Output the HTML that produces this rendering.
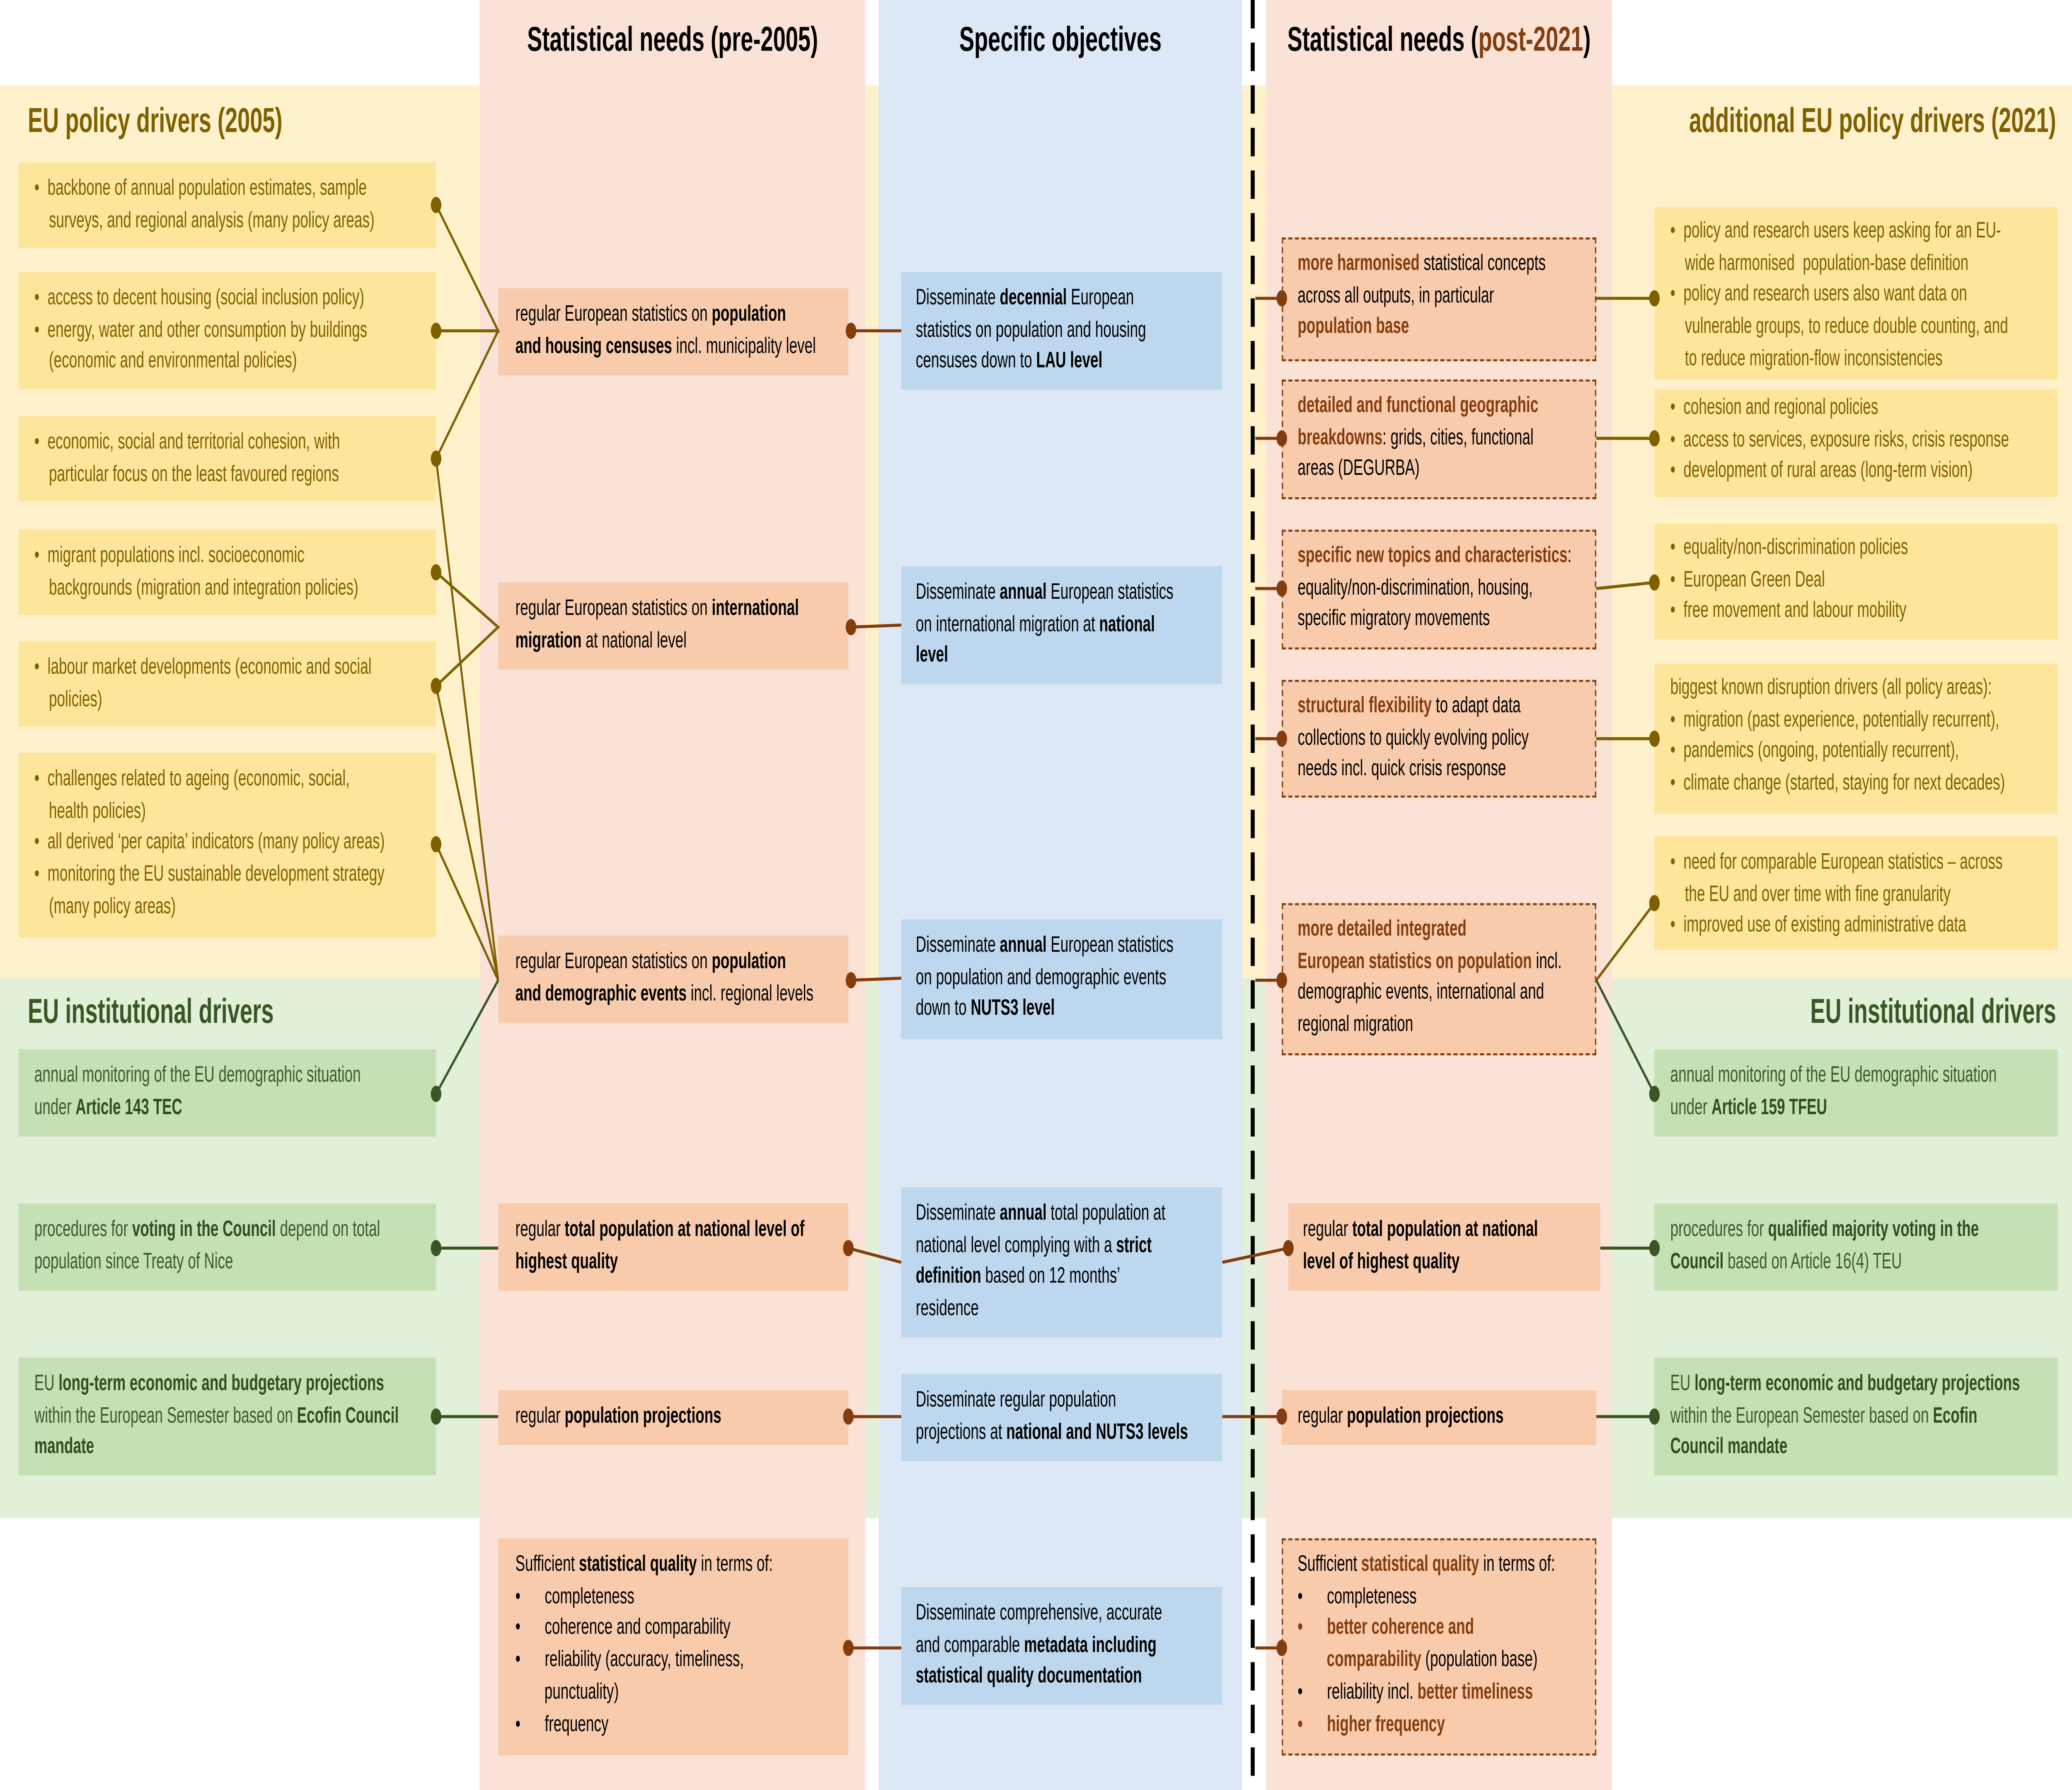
<!DOCTYPE html>
<html><head><meta charset="utf-8"><style>
html,body{margin:0;padding:0;background:#fff;overflow:hidden;width:100%;height:100%;}
svg.root{position:absolute;left:0;top:0;width:100vw;height:100vh;display:block;}
#c{position:relative;width:1568px;height:882px;font-family:"Liberation Sans",sans-serif;font-size:11px;line-height:15.7px;overflow:hidden;}
.a{position:absolute;box-sizing:border-box;}
.y{background:#fde59b;color:#7f6000;padding:6px 10px 0 12px;}
.g{background:#c5e0b4;color:#3b5a28;padding:6px 10px 0 12px;}
.p{background:#f8cbad;color:#000;padding:6px 10px 0 13px;}
.d{border:1.6px dashed #843c0c;padding:5px 8px 0 11px;}
.b{background:#bdd7ee;color:#000;padding:6px 8px 0 11px;}
.h{position:absolute;font-weight:bold;font-size:17px;line-height:20px;white-space:nowrap;}
.li{padding-left:11px;text-indent:-11px;}
.br{color:#843c0c;font-weight:bold;}
b{font-weight:bold;}
.g b{color:#2f4d1f}
.q .li{padding-left:22px;text-indent:-22px;}
</style></head><body>
<svg class="root" viewBox="0 0 1568 882" preserveAspectRatio="none" xmlns="http://www.w3.org/2000/svg">
<foreignObject x="0" y="0" width="1568" height="882">
<div xmlns="http://www.w3.org/1999/xhtml" id="c">
<div class="a" style="left:0;top:42px;width:1568px;height:440px;background:#fff1cc"></div>
<div class="a" style="left:0;top:482px;width:1568px;height:266px;background:#e2efd9"></div>
<div class="a" style="left:363px;top:0;width:292px;height:882px;background:#fae3d6"></div>
<div class="a" style="left:665px;top:0;width:275px;height:882px;background:#dce8f5"></div>
<div class="a" style="left:958px;top:0;width:262px;height:882px;background:#fae3d6"></div>

<div class="h" style="left:363px;width:292px;top:10px;text-align:center">Statistical needs (pre-2005)</div>
<div class="h" style="left:665px;width:275px;top:10px;text-align:center">Specific objectives</div>
<div class="h" style="left:958px;width:262px;top:10px;text-align:center">Statistical needs (<span style="color:#843c0c">post-2021</span>)</div>
<div class="h" style="left:21px;top:50px;color:#7f6000">EU policy drivers (2005)</div>
<div class="h" style="right:12px;top:50px;color:#7f6000">additional EU policy drivers (2021)</div>
<div class="h" style="left:21px;top:489px;color:#385723">EU institutional drivers</div>
<div class="h" style="right:12px;top:489px;color:#385723">EU institutional drivers</div>

<div class="a y" style="left:14px;top:80px;width:316px;height:42px"><div class="li">•&nbsp; backbone of annual population estimates, sample<br/>surveys, and regional analysis (many policy areas)</div></div>
<div class="a y" style="left:14px;top:134px;width:316px;height:58px"><div class="li">•&nbsp; access to decent housing (social inclusion policy)</div><div class="li">•&nbsp; energy, water and other consumption by buildings<br/>(economic and environmental policies)</div></div>
<div class="a y" style="left:14px;top:205px;width:316px;height:42px"><div class="li">•&nbsp; economic, social and territorial cohesion, with<br/>particular focus on the least favoured regions</div></div>
<div class="a y" style="left:14px;top:261px;width:316px;height:42px"><div class="li">•&nbsp; migrant populations incl. socioeconomic<br/>backgrounds (migration and integration policies)</div></div>
<div class="a y" style="left:14px;top:316px;width:316px;height:42px"><div class="li">•&nbsp; labour market developments (economic and social<br/>policies)</div></div>
<div class="a y" style="left:14px;top:371px;width:316px;height:91px"><div class="li">•&nbsp; challenges related to ageing (economic, social,<br/>health policies)</div><div class="li">•&nbsp; all derived ‘per capita’ indicators (many policy areas)</div><div class="li">•&nbsp; monitoring the EU sustainable development strategy<br/>(many policy areas)</div></div>
<div class="a g" style="left:14px;top:517px;width:316px;height:43px">annual monitoring of the EU demographic situation<br/>under <b>Article 143 TEC</b></div>
<div class="a g" style="left:14px;top:593px;width:316px;height:43px">procedures for <b>voting in the Council</b> depend on total<br/>population since Treaty of Nice</div>
<div class="a g" style="left:14px;top:669px;width:316px;height:58px">EU <b>long-term economic and budgetary projections</b><br/>within the European Semester based on <b>Ecofin Council</b><br/><b>mandate</b></div>

<div class="a p" style="left:377px;top:142px;width:265px;height:43px">regular European statistics on <b>population</b><br/><b>and housing censuses</b> incl. municipality level</div>
<div class="a p" style="left:377px;top:287px;width:265px;height:43px">regular European statistics on <b>international</b><br/><b>migration</b> at national level</div>
<div class="a p" style="left:377px;top:461px;width:265px;height:43px">regular European statistics on <b>population</b><br/><b>and demographic events</b> incl. regional levels</div>
<div class="a p" style="left:377px;top:593px;width:265px;height:43px">regular <b>total population at national level of</b><br/><b>highest quality</b></div>
<div class="a p" style="left:377px;top:685px;width:265px;height:27px">regular <b>population projections</b></div>
<div class="a p q" style="left:377px;top:758px;width:265px;height:107px">Sufficient <b>statistical quality</b> in terms of:<div class="li">•&nbsp;&nbsp;&nbsp;&nbsp;&nbsp; completeness</div><div class="li">•&nbsp;&nbsp;&nbsp;&nbsp;&nbsp; coherence and comparability</div><div class="li">•&nbsp;&nbsp;&nbsp;&nbsp;&nbsp; reliability (accuracy, timeliness,<br/>punctuality)</div><div class="li">•&nbsp;&nbsp;&nbsp;&nbsp;&nbsp; frequency</div></div>

<div class="a b" style="left:682px;top:134px;width:243px;height:58px">Disseminate <b>decennial</b> European<br/>statistics on population and housing<br/>censuses down to <b>LAU level</b></div>
<div class="a b" style="left:682px;top:279px;width:243px;height:58px">Disseminate <b>annual</b> European statistics<br/>on international migration at <b>national</b><br/><b>level</b></div>
<div class="a b" style="left:682px;top:453px;width:243px;height:59px">Disseminate <b>annual</b> European statistics<br/>on population and demographic events<br/>down to <b>NUTS3 level</b></div>
<div class="a b" style="left:682px;top:585px;width:243px;height:74px">Disseminate <b>annual</b> total population at<br/>national level complying with a <b>strict</b><br/><b>definition</b> based on 12 months’<br/>residence</div>
<div class="a b" style="left:682px;top:677px;width:243px;height:43px">Disseminate regular population<br/>projections at <b>national and NUTS3 levels</b></div>
<div class="a b" style="left:682px;top:782px;width:243px;height:58px">Disseminate comprehensive, accurate<br/>and comparable <b>metadata including</b><br/><b>statistical quality documentation</b></div>

<div class="a p d" style="left:970px;top:117px;width:238px;height:61px"><span class="br">more harmonised</span> statistical concepts<br/>across all outputs, in particular<br/><span class="br">population base</span></div>
<div class="a p d" style="left:970px;top:187px;width:238px;height:59px"><span class="br">detailed and functional geographic</span><br/><span class="br">breakdowns</span>: grids, cities, functional<br/>areas (DEGURBA)</div>
<div class="a p d" style="left:970px;top:261px;width:238px;height:59px"><span class="br">specific new topics and characteristics</span>:<br/>equality/non-discrimination, housing,<br/>specific migratory movements</div>
<div class="a p d" style="left:970px;top:335px;width:238px;height:58px"><span class="br">structural flexibility</span> to adapt data<br/>collections to quickly evolving policy<br/>needs incl. quick crisis response</div>
<div class="a p d" style="left:970px;top:445px;width:238px;height:75px"><span class="br">more detailed integrated</span><br/><span class="br">European statistics on population</span> incl.<br/>demographic events, international and<br/>regional migration</div>
<div class="a p" style="left:975px;top:593px;width:236px;height:43px;padding-left:11px">regular <b>total population at national</b><br/><b>level of highest quality</b></div>
<div class="a p" style="left:970px;top:685px;width:238px;height:27px;padding-left:12px">regular <b>population projections</b></div>
<div class="a p d q" style="left:970px;top:758px;width:238px;height:107px">Sufficient <span class="br">statistical quality</span> in terms of:<div class="li">•&nbsp;&nbsp;&nbsp;&nbsp;&nbsp; completeness</div><div class="li"><span class="br">•&nbsp;&nbsp;&nbsp;&nbsp;&nbsp; better coherence and<br/>comparability</span> (population base)</div><div class="li">•&nbsp;&nbsp;&nbsp;&nbsp;&nbsp; reliability incl. <span class="br">better timeliness</span></div><div class="li br">•&nbsp;&nbsp;&nbsp;&nbsp;&nbsp; higher frequency</div></div>

<div class="a y" style="left:1252px;top:102px;width:305px;height:85px;padding-top:5px"><div class="li">•&nbsp; policy and research users keep asking for an EU-<br/>wide harmonised&nbsp; population-base definition</div><div class="li">•&nbsp; policy and research users also want data on<br/>vulnerable groups, to reduce double counting, and<br/>to reduce migration-flow inconsistencies</div></div>
<div class="a y" style="left:1252px;top:192px;width:305px;height:53px;padding-top:2px"><div class="li">•&nbsp; cohesion and regional policies</div><div class="li">•&nbsp; access to services, exposure risks, crisis response</div><div class="li">•&nbsp; development of rural areas (long-term vision)</div></div>
<div class="a y" style="left:1252px;top:258px;width:305px;height:57px;padding-top:5px"><div class="li">•&nbsp; equality/non-discrimination policies</div><div class="li">•&nbsp; European Green Deal</div><div class="li">•&nbsp; free movement and labour mobility</div></div>
<div class="a y" style="left:1252px;top:327px;width:305px;height:74px;padding-top:5px">biggest known disruption drivers (all policy areas):<div class="li">•&nbsp; migration (past experience, potentially recurrent),</div><div class="li">•&nbsp; pandemics (ongoing, potentially recurrent),</div><div class="li">•&nbsp; climate change (started, staying for next decades)</div></div>
<div class="a y" style="left:1252px;top:412px;width:305px;height:56px;padding-top:6px"><div class="li">•&nbsp; need for comparable European statistics – across<br/>the EU and over time with fine granularity</div><div class="li">•&nbsp; improved use of existing administrative data</div></div>
<div class="a g" style="left:1252px;top:517px;width:305px;height:43px">annual monitoring of the EU demographic situation<br/>under <b>Article 159 TFEU</b></div>
<div class="a g" style="left:1252px;top:593px;width:305px;height:43px">procedures for <b>qualified majority voting in the</b><br/><b>Council</b> based on Article 16(4) TEU</div>
<div class="a g" style="left:1252px;top:669px;width:305px;height:58px">EU <b>long-term economic and budgetary projections</b><br/>within the European Semester based on <b>Ecofin</b><br/><b>Council mandate</b></div>
</div>
</foreignObject>
<line x1="948" y1="0" x2="948" y2="882" stroke="#000" stroke-width="3" stroke-dasharray="14 7"/>
<g stroke="#7f6000" stroke-width="1.5" fill="none">
<polyline points="330,101 377,163 330,163"/><line x1="330" y1="226" x2="377" y2="163"/>
<polyline points="330,282 377,309 330,338"/>
<line x1="330" y1="226" x2="377" y2="483"/><line x1="330" y1="338" x2="377" y2="483"/><line x1="330" y1="416" x2="377" y2="483"/>
<line x1="1208" y1="147" x2="1252" y2="147"/><line x1="1208" y1="216" x2="1252" y2="216"/><line x1="1208" y1="290" x2="1252" y2="287"/><line x1="1208" y1="364" x2="1252" y2="364"/><line x1="1208" y1="483" x2="1252" y2="445"/>
</g>
<g fill="#7f6000"><circle cx="330" cy="101" r="4"/><circle cx="330" cy="163" r="4"/><circle cx="330" cy="226" r="4"/><circle cx="330" cy="282" r="4"/><circle cx="330" cy="338" r="4"/><circle cx="330" cy="416" r="4"/>
<circle cx="1252" cy="147" r="4"/><circle cx="1252" cy="216" r="4"/><circle cx="1252" cy="287" r="4"/><circle cx="1252" cy="364" r="4"/><circle cx="1252" cy="445" r="4"/></g>
<g stroke="#375623" stroke-width="1.5"><line x1="330" y1="539" x2="377" y2="483"/><line x1="330" y1="615" x2="377" y2="615"/><line x1="330" y1="698" x2="377" y2="698"/>
<line x1="1208" y1="483" x2="1252" y2="539"/><line x1="1211" y1="615" x2="1252" y2="615"/><line x1="1208" y1="698" x2="1252" y2="698"/></g>
<g fill="#375623"><circle cx="330" cy="539" r="4"/><circle cx="330" cy="615" r="4"/><circle cx="330" cy="698" r="4"/><circle cx="1252" cy="539" r="4"/><circle cx="1252" cy="615" r="4"/><circle cx="1252" cy="698" r="4"/></g>
<g stroke="#843c0c" stroke-width="1.5"><line x1="644" y1="163" x2="682" y2="163"/><line x1="644" y1="309" x2="682" y2="308"/><line x1="644" y1="483" x2="682" y2="482"/><line x1="642" y1="615" x2="682" y2="622"/><line x1="642" y1="698" x2="682" y2="698"/><line x1="642" y1="812" x2="682" y2="812"/>
<line x1="925" y1="622" x2="975" y2="615"/><line x1="925" y1="698" x2="970" y2="698"/>
<line x1="950" y1="147" x2="970" y2="147"/><line x1="950" y1="216" x2="970" y2="216"/><line x1="950" y1="290" x2="970" y2="290"/><line x1="950" y1="364" x2="970" y2="364"/><line x1="950" y1="483" x2="970" y2="483"/><line x1="950" y1="812" x2="970" y2="812"/></g>
<g fill="#843c0c"><circle cx="644" cy="163" r="4"/><circle cx="644" cy="309" r="4"/><circle cx="644" cy="483" r="4"/><circle cx="642" cy="615" r="4"/><circle cx="642" cy="698" r="4"/><circle cx="642" cy="812" r="4"/>
<circle cx="970" cy="147" r="4"/><circle cx="970" cy="216" r="4"/><circle cx="970" cy="290" r="4"/><circle cx="970" cy="364" r="4"/><circle cx="970" cy="483" r="4"/><circle cx="975" cy="615" r="4"/><circle cx="970" cy="698" r="4"/><circle cx="970" cy="812" r="4"/></g>
</svg>
</body></html>
